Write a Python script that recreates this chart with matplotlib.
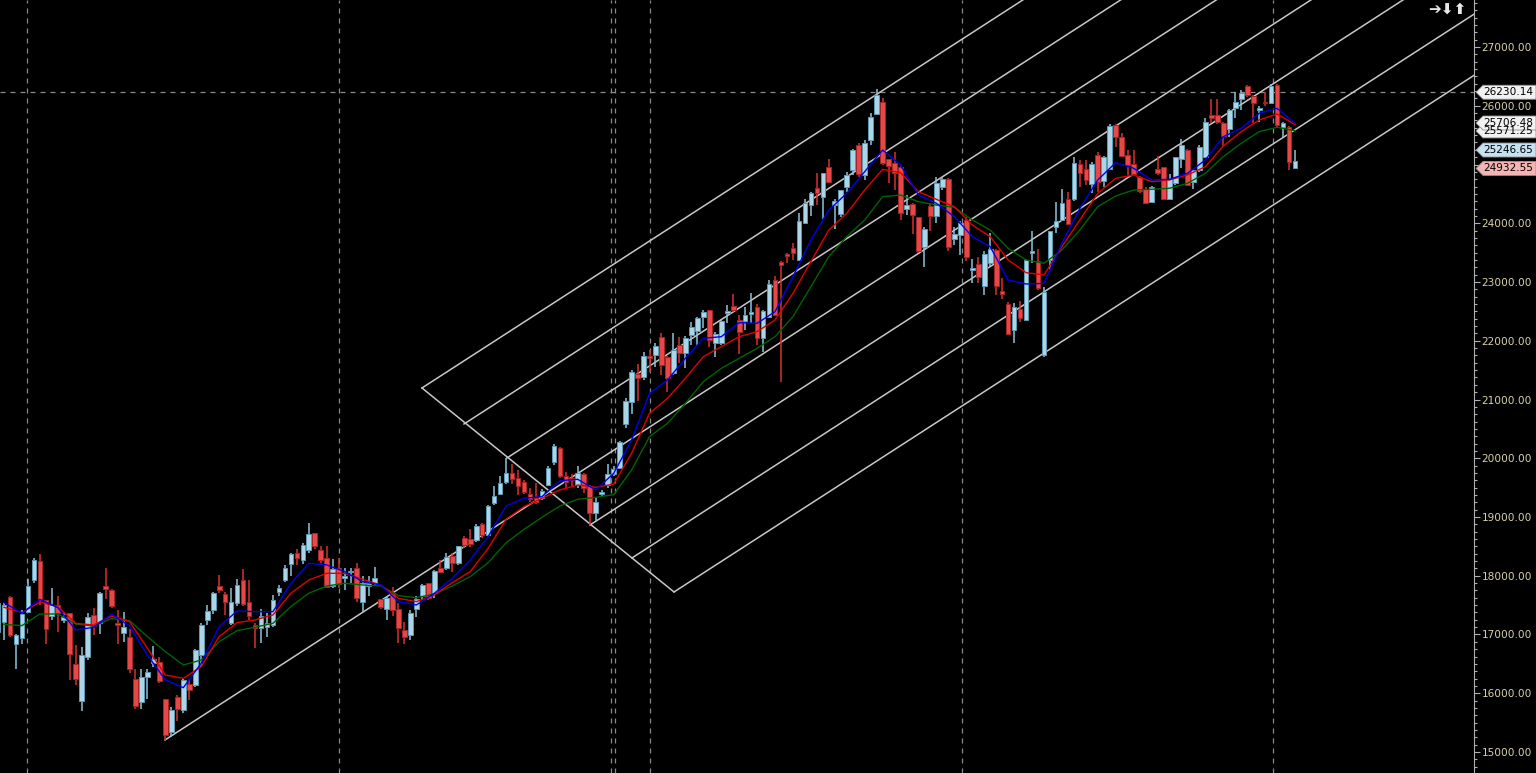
import numpy as np
import matplotlib
matplotlib.use('Agg')
import matplotlib.pyplot as plt
import matplotlib.transforms as mtransforms
from matplotlib.patches import Polygon
from matplotlib.ticker import MultipleLocator, FormatStrFormatter

# weekly candles (index 0 is the half-hidden one at the left edge)
opens = [17050, 17220, 17630, 16840, 16940, 17390, 17920, 18250, 17590, 17320,
         17500, 17240, 17360, 16490, 15870, 16620, 17330, 17190, 17830, 17760,
         17200, 17020, 16950, 16240, 15850, 16280, 16520, 16540, 15900, 15340,
         15940, 15720, 16150, 16140, 16650, 17240, 17410, 17820, 17690, 17190,
         17540, 17920, 17550, 17160, 17110, 17120, 17160, 17730, 17920, 18200,
         18380, 18260, 18430, 18720, 18430, 18310, 17830, 18140, 17970, 18060,
         18130, 17550, 17830, 17870, 17600, 17430, 17700, 17430, 17080, 16990,
         17440, 17650, 17870, 17700, 18140, 18130, 18340, 18210, 18640, 18620,
         18610, 18880, 18690, 19240, 19400, 19600, 19750, 19660, 19600, 19400,
         19320, 19320, 19540, 19940, 20170, 19690, 19660, 19550, 19740, 19520,
         19060, 19390, 19540, 19730, 19840, 20580, 20960, 21440, 21380, 21740,
         21760, 22060, 21720, 21450, 21930, 21800, 22100, 22170, 22410, 22520,
         21960, 21960, 22470, 22590, 22350, 22340, 22460, 22580, 22040, 22400,
         23040, 23340, 23480, 23580, 23370, 24000, 24310, 24600, 24440, 24960,
         24310, 24150, 24620, 24900, 25340, 24820, 25420, 25860, 26070, 25090,
         25020, 24950, 24250, 24330, 24100, 23600, 24290, 24130, 24610, 24750,
         23730, 23800, 24050, 23200, 23300, 22940, 23320, 23540, 22840, 22630,
         22180, 22540, 22350, 23500, 23350, 21760, 23370, 23940, 24050, 24420,
         24420, 25010, 24920, 24670, 25160, 24720, 24930, 25670, 25460, 25160,
         25010, 24780, 24590, 24370, 24930, 24950, 24420, 24690, 25100, 25250,
         24710, 24910, 25130, 25840, 25850, 25710, 25600, 25960, 26110, 26340,
         26160, 25920, 26070, 26050, 26350, 25630, 25640, 24940]
highs = [17560, 17530, 17650, 17000, 17410, 17940, 18300, 18370, 17590, 17800,
         17650, 17370, 17360, 16820, 16780, 17360, 17450, 17730, 18130, 17770,
         17420, 17390, 17100, 16420, 16420, 16420, 16800, 16620, 15900, 15770,
         15970, 16250, 16250, 16760, 17190, 17500, 17730, 18010, 17730, 17790,
         17940, 18110, 17930, 17190, 17430, 17360, 17670, 17840, 18180, 18390,
         18450, 18550, 18890, 18730, 18500, 18500, 18280, 18300, 18140, 18130,
         18210, 17990, 17990, 18150, 17610, 17650, 17810, 17530, 17220, 17420,
         17650, 17860, 17880, 18100, 18270, 18390, 18380, 18510, 18670, 18790,
         18880, 18890, 19200, 19530, 19690, 20000, 19910, 19800, 19630, 19490,
         19580, 19470, 19870, 20240, 20190, 19770, 19740, 19860, 19750, 19545,
         19320, 19460, 19910, 19860, 20300, 21020, 21500, 21600, 21810, 21840,
         21960, 22140, 21740, 22140, 22060, 22080, 22320, 22410, 22530, 22530,
         22150, 22370, 22610, 22800, 22440, 22580, 22810, 22620, 22530, 23040,
         23100, 23350, 23500, 23660, 24180, 24410, 24540, 24850, 24860, 25090,
         24420, 24570, 24880, 25270, 25360, 25420, 25870, 26280, 26140, 25100,
         25220, 24970, 24480, 24340, 24110, 23940, 24330, 24790, 24790, 24770,
         23940, 24030, 24110, 23400, 23430, 23520, 23830, 23560, 23060, 22660,
         22640, 22680, 23400, 23870, 23560, 22920, 23870, 24370, 24590, 24540,
         25130, 25080, 25080, 25050, 25220, 25140, 25690, 25690, 25540, 25250,
         25250, 24800, 24610, 24630, 25140, 24960, 24840, 25130, 25430, 25260,
         24910, 25330, 25790, 26110, 26110, 25730, 25940, 26240, 26260, 26350,
         26180, 26000, 26240, 26370, 26370, 25730, 25650, 25250]
lows = [16900, 16910, 16960, 16410, 16840, 17360, 17880, 17500, 16840, 17250,
        17050, 17200, 16220, 16140, 15690, 16570, 16990, 17000, 17600, 17450,
        16840, 16880, 16350, 15730, 15740, 15900, 16440, 16170, 15210, 15260,
        15520, 15660, 15890, 16110, 16450, 17160, 17350, 17710, 17330, 17160,
        17480, 17490, 17250, 16770, 16860, 16960, 17130, 17650, 17900, 17990,
        18180, 18200, 18380, 18450, 18220, 17790, 17790, 17800, 17760, 17870,
        17560, 17390, 17650, 17820, 17430, 17250, 17320, 16850, 16840, 16910,
        17300, 17590, 17590, 17620, 18040, 18090, 18070, 18180, 18470, 18490,
        18580, 18650, 18680, 19200, 19370, 19560, 19570, 19370, 19400, 19260,
        19220, 19290, 19520, 19890, 19660, 19490, 19520, 19490, 19410, 18860,
        18940, 19350, 19500, 19690, 19830, 20510, 20760, 20980, 21340, 21470,
        21560, 21420, 21130, 21420, 21620, 21530, 21930, 21930, 22210, 21900,
        21720, 21930, 22300, 22490, 21780, 22180, 22300, 21930, 21810, 22380,
        22440, 21290, 23330, 23370, 23360, 23990, 24120, 24310, 24080, 24680,
        23910, 24110, 24540, 24820, 24790, 24740, 25330, 25840, 24990, 24680,
        24570, 24050, 24140, 23820, 23490, 23250, 23860, 24000, 24570, 23530,
        23630, 23460, 23350, 22980, 22980, 22780, 23260, 22780, 22710, 22100,
        21960, 22320, 22340, 23320, 22860, 21730, 23220, 23830, 24040, 23970,
        24380, 24610, 24650, 24510, 24540, 24610, 24910, 25300, 25130, 24820,
        24820, 24510, 24340, 24340, 24820, 24400, 24410, 24650, 24940, 24630,
        24590, 24880, 25110, 25700, 25690, 25320, 25470, 25790, 25930, 26150,
        25710, 25730, 25990, 26040, 25620, 25470, 24910, 24920]
closes = [17530, 17500, 16990, 17000, 17350, 17830, 18270, 17590, 17100, 17500,
          17370, 17290, 16670, 16240, 16650, 17300, 17150, 17700, 17780, 17480,
          17170, 17120, 16410, 15790, 16280, 16370, 16590, 16210, 15290, 15720,
          15740, 16220, 16060, 16740, 17160, 17400, 17710, 17760, 17560, 17560,
          17840, 17520, 17320, 17110, 17320, 17200, 17590, 17790, 18130, 18370,
          18310, 18520, 18710, 18500, 18270, 17810, 18110, 17860, 17990, 18080,
          17620, 17870, 17880, 17970, 17460, 17620, 17410, 17110, 16950, 17370,
          17600, 17840, 17620, 18080, 18070, 18325, 18210, 18500, 18520, 18540,
          18840, 18690, 19190, 19360, 19580, 19750, 19640, 19520, 19420, 19300,
          19260, 19450, 19830, 20210, 19690, 19600, 19630, 19750, 19490, 19060,
          19260, 19430, 19740, 19810, 20280, 20980, 21470, 21360, 21740, 21710,
          21910, 21590, 21360, 21850, 21790, 22040, 22230, 22380, 22490, 22020,
          22110, 22340, 22510, 22520, 22150, 22440, 22490, 22040, 22510, 22960,
          22440, 23290, 23450, 23500, 24030, 24340, 24520, 24510, 24850, 24710,
          24380, 24560, 24820, 25250, 24840, 25370, 25800, 26180, 25020, 24970,
          24850, 24180, 24310, 24140, 23520, 23900, 24120, 24680, 24760, 23590,
          23820, 24000, 23430, 23240, 23090, 23480, 23570, 22930, 22800, 22110,
          22570, 22380, 23370, 23530, 22890, 22830, 23860, 24040, 24350, 23990,
          25020, 24850, 24740, 25010, 24710, 25120, 25660, 25460, 25140, 24990,
          24840, 24550, 24350, 24620, 24860, 24410, 24750, 25120, 25330, 24650,
          24910, 25290, 25730, 25790, 25730, 25490, 25930, 26070, 26210, 26180,
          26040, 25970, 26040, 26330, 25670, 25710, 25050, 25060]

# moving averages, read every third candle
ma_idx = list(range(1, 218, 3))
ma_blue = [17542, 17361, 17599, 17457, 17077, 17122, 17349, 17145, 16651, 16226,
           16095, 16510, 17134, 17400, 17389, 17389, 17872, 18212, 18184, 18070,
           17900, 17843, 17559, 17503, 17701, 17956, 18269, 18666, 19187, 19318,
           19346, 19619, 19641, 19460, 19743, 20311, 21105, 21332, 21701, 22041,
           22069, 22308, 22297, 22495, 23091, 23715, 24226, 24509, 24878, 25246,
           24991, 24480, 24339, 24112, 23772, 23602, 23034, 22966, 22977, 23658,
           24254, 24737, 25032, 24935, 24737, 24748, 24850, 25077, 25474, 25616,
           25871, 25956, 25700]
ma_red = [17463, 17372, 17554, 17474, 17190, 17162, 17315, 17219, 16765, 16311,
          16254, 16453, 16964, 17202, 17248, 17333, 17702, 17928, 18042, 18042,
          17940, 17843, 17616, 17559, 17673, 17883, 18070, 18467, 18960, 19176,
          19318, 19460, 19545, 19505, 19560, 20084, 20764, 21020, 21360, 21729,
          21899, 22070, 22155, 22353, 22807, 23346, 23885, 24169, 24566, 24917,
          24861, 24537, 24407, 24282, 23970, 23772, 23375, 23159, 23119, 23602,
          24056, 24510, 24765, 24822, 24708, 24737, 24822, 24963, 25315, 25559,
          25758, 25860, 25680]
ma_green = [17173, 17151, 17349, 17349, 17179, 17145, 17270, 17236, 16963, 16708,
            16481, 16566, 16878, 17066, 17123, 17191, 17475, 17702, 17826, 17872,
            17843, 17826, 17661, 17627, 17690, 17826, 17985, 18223, 18560, 18790,
            18994, 19187, 19301, 19335, 19380, 19800, 20367, 20594, 20934, 21303,
            21530, 21701, 21871, 22070, 22410, 22921, 23431, 23772, 24055, 24452,
            24481, 24367, 24310, 24271, 24056, 23885, 23573, 23375, 23318, 23545,
            23885, 24283, 24464, 24566, 24578, 24595, 24680, 24850, 25134, 25361,
            25559, 25633, 25575]

# drawn channel: start points (candle index, price) and common slope per candle
chan_i = [27.94, 70.93, 77.96, 85.16, 99.04, 106.07, 113.1]
chan_p = [15205, 21196, 20583, 20005, 18864, 18303, 17724]
chan_slope = 65.7
base_i = [70.93, 113.1]
base_p = [21196, 17724]

vgrid = [4.85, 57.05, 102.56, 103.23, 109.08, 161.28, 213.31]
hline = 26230.14

tag_vals = [26230.14, 25571.25, 25706.48, 25246.65, 24932.55]
tag_cols = ['#f2f2f2', '#f2f2f2', '#f2f2f2', '#c6e2f0', '#f4b4b4']

o = np.array(opens, float)
h = np.array(highs, float)
l = np.array(lows, float)
c = np.array(closes, float)
idx = np.arange(len(o))

W, H = 1536, 773
fig = plt.figure(figsize=(W / 100, H / 100), dpi=100, facecolor='black')
ax = fig.add_axes([0, 0, 1474 / W, 1])
ax.set_facecolor('black')

x0 = 1 - 4 / 5.977
x1 = 1 + 1470 / 5.977
ax.set_xlim(x0, x1)
ax.set_ylim(27000 - 726 / 58.75 * 1000, 27000 + 47 / 58.75 * 1000)

# grid / crosshair
for g in vgrid:
    ax.axvline(g, color='#8a8a8a', lw=0.9, dashes=(4, 4), zorder=1)
ax.axhline(hline, color='#8a8a8a', lw=0.9, dashes=(4, 4), zorder=1)

# channel lines
for si, sp in zip(chan_i, chan_p):
    ax.plot([si, x1], [sp, sp + chan_slope * (x1 - si)], color='#c8c8c8', lw=1.1, zorder=2)
ax.plot(base_i, base_p, color='#c8c8c8', lw=1.1, zorder=2)

# candles
up = c >= o
wick_col = np.where(up, '#8cc4dc', '#d83030')
body_fc = np.where(up, '#acd6e8', '#e64848')
body_ec = np.where(up, '#5e9ab4', '#a82424')
ax.vlines(idx, l, h, colors=wick_col, lw=1.1, zorder=3)
body = np.maximum(np.abs(c - o), 25)
ax.bar(idx, body, bottom=np.minimum(o, c), width=0.78, color=body_fc,
       edgecolor=body_ec, lw=0.7, zorder=4)

# moving averages
ax.plot(ma_idx, ma_green, color='#006400', lw=1.0, zorder=5)
ax.plot(ma_idx, ma_red, color='#e00000', lw=1.0, zorder=5)
ax.plot(ma_idx, ma_blue, color='#0000f0', lw=1.0, zorder=5)

# right price axis
for s in ['left', 'top', 'bottom']:
    ax.spines[s].set_visible(False)
ax.spines['right'].set_color('#b0b0b0')
ax.set_xticks([])
ax.yaxis.tick_right()
ax.yaxis.set_major_locator(MultipleLocator(1000))
ax.yaxis.set_minor_locator(MultipleLocator(125))
ax.yaxis.set_major_formatter(FormatStrFormatter('%.2f'))
ax.tick_params(axis='y', which='major', colors='#b0b0b0', labelcolor='#d8d0a8',
               labelsize=7.6, length=4, width=0.8, pad=1.5)
ax.tick_params(axis='y', which='minor', colors='#b0b0b0', length=2.5, width=0.8)

# price tags on the axis
tr = mtransforms.blended_transform_factory(fig.transFigure, ax.transData)
hp = 7 / 58.75 * 1000
for v, fc in zip(tag_vals, tag_cols):
    xa, xb, xc = 1476 / W, 1483 / W, 1536 / W
    poly = Polygon([[xa, v], [xb, v + hp], [xc, v + hp], [xc, v - hp], [xb, v - hp]],
                   closed=True, transform=tr, facecolor=fc, edgecolor='#909090',
                   lw=0.6, clip_on=False, zorder=10)
    ax.add_patch(poly)
    ax.text(1483.5 / W, v, '%.2f' % v, transform=tr, fontsize=7.6, color='black',
            va='center', ha='left', clip_on=False, zorder=11)

fig.text(1428 / W, 1 - 9 / H, '\u2794\u2b07\u2b06', color='#e8e8e8', fontsize=11,
         fontweight='bold', va='center', ha='left')

fig.savefig('out.png', dpi=100, facecolor='black')
